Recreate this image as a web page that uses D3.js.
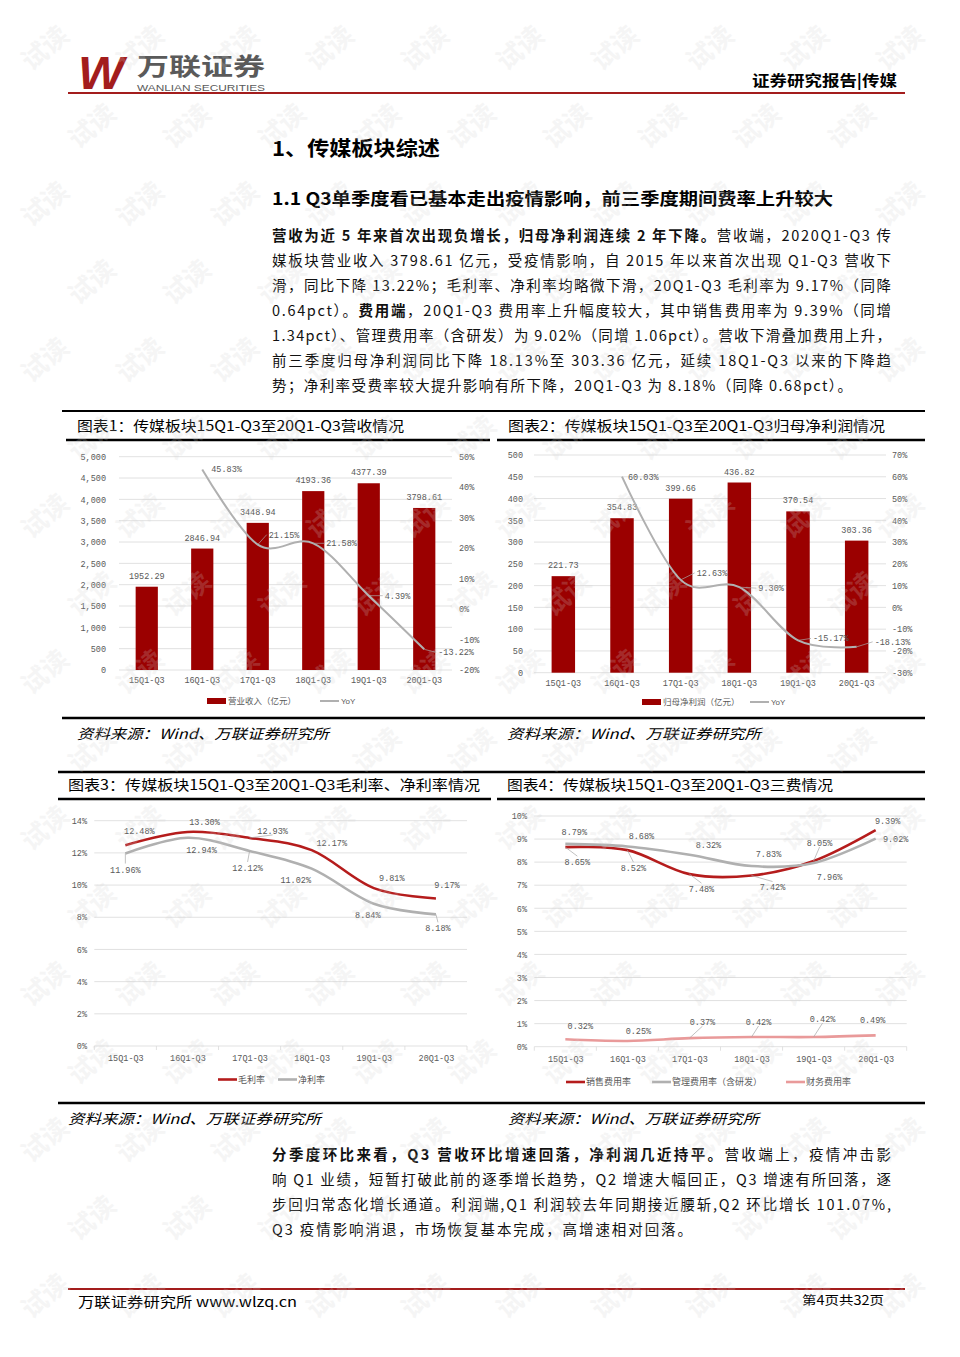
<!DOCTYPE html>
<html>
<head>
<meta charset="utf-8">
<script src="https://cdn.jsdelivr.net/npm/d3@7"></script>
<style>
html, body { margin: 0; padding: 0; background: #fff; }
svg { display: block; }
</style>
</head>
<body>
<svg id="page" width="960" height="1357"></svg>
<script>
// categories shared by the four charts
var periods = ["15Q1-Q3", "16Q1-Q3", "17Q1-Q3", "18Q1-Q3", "19Q1-Q3", "20Q1-Q3"];

// chart 1: revenue (100m yuan) and YoY %
var revenue = [1952.29, 2846.94, 3448.94, 4193.36, 4377.39, 3798.61];
var revenueYoY = [null, 45.83, 21.15, 21.58, 4.39, -13.22];

// chart 2: net profit attributable (100m yuan) and YoY %
var netProfit = [221.73, 354.83, 399.66, 436.82, 370.54, 303.36];
var netProfitYoY = [null, 60.03, 12.63, 9.30, -15.17, -18.13];

// chart 3: margins %
var grossMargin = [12.48, 13.30, 12.93, 12.17, 9.81, 9.17];
var netMargin = [11.96, 12.94, 12.12, 11.02, 8.84, 8.18];

// chart 4: expense ratios %
var salesRate = [8.65, 8.52, 7.48, 7.42, 8.05, 9.39];
var adminRate = [8.79, 8.68, 8.32, 7.83, 7.96, 9.02];
var financeRate = [0.32, 0.25, 0.37, 0.42, 0.42, 0.49];

// axis ticks
var revTicks = [0, 500, 1000, 1500, 2000, 2500, 3000, 3500, 4000, 4500, 5000];
var revYoYTicks = [-20, -10, 0, 10, 20, 30, 40, 50];
var profitTicks = [0, 50, 100, 150, 200, 250, 300, 350, 400, 450, 500];
var profitYoYTicks = [-30, -20, -10, 0, 10, 20, 30, 40, 50, 60, 70];
var marginTicks = [0, 2, 4, 6, 8, 10, 12, 14];
var expenseTicks = [0, 1, 2, 3, 4, 5, 6, 7, 8, 9, 10];

var CJK = "'Noto Sans CJK SC', 'Noto Sans', sans-serif";
var MONO = "'Liberation Mono', 'DejaVu Sans Mono', monospace";
var BRAND = "#a31d1d";
var BAR = "#9b0000";
var LRED = "#b51c1c";
var LGRAY = "#b0b0b0";
var PINK = "#e99a9a";
var TXT = "#595959";
var GRID = "#d9d9d9";

var svg = d3.select("#page");
svg.append("rect").attr("width", 960).attr("height", 1357).attr("fill", "#fff");

function text(x, y, s, opt) {
  opt = opt || {};
  var t = svg.append("text")
    .attr("x", x).attr("y", y)
    .attr("font-family", opt.font || CJK)
    .attr("font-size", opt.size || 14)
    .attr("fill", opt.fill || "#000")
    .attr("text-anchor", opt.anchor || "start");
  if (opt.weight) t.attr("font-weight", opt.weight);
  if (opt.italic) t.attr("font-style", "italic");
  if (opt.len) t.attr("textLength", opt.len).attr("lengthAdjust", "spacingAndGlyphs");
  t.text(s);
  return t;
}

function hline(x1, x2, y, color, w) {
  svg.append("line").attr("x1", x1).attr("x2", x2).attr("y1", y).attr("y2", y)
    .attr("stroke", color).attr("stroke-width", w);
}

// ---------- header ----------
text(78, 89, "W", {font: "'Liberation Sans', Arial, sans-serif", size: 46, weight: "bold", italic: true, fill: BRAND, len: 46});
text(137, 75, "万联证券", {size: 24, weight: "bold", fill: "#5a5a5a", len: 128});
text(137, 91, "WANLIAN SECURITIES", {font: "'Liberation Sans', Arial, sans-serif", size: 9.5, fill: "#5a5a5a", len: 128});
text(752, 86, "证券研究报告|传媒", {size: 15, weight: "bold", len: 145});
hline(68, 905, 93, BRAND, 2);

// ---------- headings and first paragraph ----------
text(272, 156, "1、传媒板块综述", {size: 20, weight: "bold", len: 168});
text(272, 205, "1.1 Q3单季度看已基本走出疫情影响，前三季度期间费率上升较大", {size: 17, weight: "bold", len: 561});

var para1 = [
  [["营收为近 5 年来首次出现负增长，归母净利润连续 2 年下降。", 1], ["营收端，2020Q1-Q3 传", 0]],
  [["媒板块营业收入 3798.61 亿元，受疫情影响，自 2015 年以来首次出现 Q1-Q3 营收下", 0]],
  [["滑，同比下降 13.22%；毛利率、净利率均略微下滑，20Q1-Q3 毛利率为 9.17%（同降", 0]],
  [["0.64pct）。", 0], ["费用端", 1], ["，20Q1-Q3 费用率上升幅度较大，其中销售费用率为 9.39%（同增", 0]],
  [["1.34pct）、管理费用率（含研发）为 9.02%（同增 1.06pct）。营收下滑叠加费用上升，", 0]],
  [["前三季度归母净利润同比下降 18.13%至 303.36 亿元，延续 18Q1-Q3 以来的下降趋", 0]],
  [["势；净利率受费率较大提升影响有所下降，20Q1-Q3 为 8.18%（同降 0.68pct）。", 0]]
];
var para1Len = [619, 619, 619, 619, 619, 619, 580];

var para2 = [
  [["分季度环比来看，Q3 营收环比增速回落，净利润几近持平。", 1], ["营收端上，疫情冲击影", 0]],
  [["响 Q1 业绩，短暂打破此前的逐季增长趋势，Q2 增速大幅回正，Q3 增速有所回落，逐", 0]],
  [["步回归常态化增长通道。利润端,Q1 利润较去年同期接近腰斩,Q2 环比增长 101.07%,", 0]],
  [["Q3 疫情影响消退，市场恢复基本完成，高增速相对回落。", 0]]
];
var para2Len = [619, 619, 619, 420];

function paragraph(lines, lens, y0) {
  lines.forEach(function (segs, i) {
    var t = svg.append("text")
      .attr("x", 272).attr("y", y0 + i * 25)
      .attr("font-family", CJK).attr("font-size", 14.5).attr("fill", "#111")
      .attr("textLength", lens[i]).attr("lengthAdjust", "spacing");
    segs.forEach(function (s) {
      t.append("tspan").attr("font-weight", s[1] ? "bold" : "normal").text(s[0]);
    });
  });
}
paragraph(para1, para1Len, 241);
paragraph(para2, para2Len, 1160);

// ---------- frames ----------
hline(62, 925, 411, "#000", 2);
hline(66, 490, 440, "#000", 2.5);
hline(497, 925, 440, "#000", 2.5);
hline(62, 925, 718, "#000", 2.5);
hline(58, 925, 772, "#000", 2.5);
hline(58, 491, 799, "#000", 2.5);
hline(497, 925, 799, "#000", 2.5);
hline(58, 925, 1103, "#000", 2.5);

text(77, 431, "图表1：传媒板块15Q1-Q3至20Q1-Q3营收情况", {size: 14, len: 327});
text(508, 431, "图表2：传媒板块15Q1-Q3至20Q1-Q3归母净利润情况", {size: 14, len: 377});
text(68, 790, "图表3：传媒板块15Q1-Q3至20Q1-Q3毛利率、净利率情况", {size: 14, len: 412});
text(507, 790, "图表4：传媒板块15Q1-Q3至20Q1-Q3三费情况", {size: 14, len: 326});

var src = "资料来源：Wind、万联证券研究所";
text(77, 739, src, {size: 14, italic: true, len: 252});
text(507, 739, src, {size: 14, italic: true, len: 254});
text(68, 1124, src, {size: 14, italic: true, len: 253});
text(508, 1124, src, {size: 14, italic: true, len: 251});

// ---------- footer ----------
hline(68, 905, 1289, BRAND, 2);
text(78, 1307, "万联证券研究所 www.wlzq.cn", {size: 13.5, len: 219});
text(884, 1305, "第4页共32页", {size: 12.5, anchor: "end", len: 82});

// ---------- chart helpers ----------
function styleAxis(a) {
  a.select(".domain").remove();
  a.selectAll("text").attr("font-family", MONO).attr("font-size", 8.5).attr("fill", TXT);
}

function pctLabel(v) { return v.toFixed(2) + "%"; }

function labels(g, xs, ys, vals, offs, leaders, anchor) {
  vals.forEach(function (v, i) {
    if (v == null) return;
    var px = xs(i), py = ys(v), o = offs[i];
    if (leaders && leaders[i]) {
      var lx = px + o[0] - (anchor === "start" ? 2 : 0);
      var ly = py + o[1] + (anchor === "start" ? 0 : (o[1] > 0 ? -6 : 4));
      g.append("line").attr("x1", px).attr("y1", py).attr("x2", lx).attr("y2", ly)
        .attr("stroke", "#a6a6a6").attr("stroke-width", 0.7);
    }
    g.append("text").attr("x", px + o[0]).attr("y", py + o[1])
      .attr("dy", "0.35em").attr("text-anchor", anchor)
      .attr("font-family", MONO).attr("font-size", 8.5).attr("fill", TXT)
      .text(pctLabel(v));
  });
}

// bar + YoY line chart
function barChart(c) {
  var g = svg.append("g");
  var x = d3.scaleBand().domain(periods).range([c.x0, c.x1]).paddingInner(0.6).paddingOuter(0.3);
  var yL = d3.scaleLinear().domain(d3.extent(c.leftTicks)).range([c.yb, c.yt]);
  var yR = d3.scaleLinear().domain(d3.extent(c.rightTicks)).range([c.yb, c.yt]);

  g.selectAll("line.grid").data(c.leftTicks).join("line").attr("class", "grid")
    .attr("x1", c.x0).attr("x2", c.x1)
    .attr("y1", function (d) { return yL(d); }).attr("y2", function (d) { return yL(d); })
    .attr("stroke", GRID).attr("stroke-width", 0.8);

  g.append("g").attr("transform", "translate(" + c.leftLabelX + ",0)")
    .call(d3.axisLeft(yL).tickValues(c.leftTicks).tickSize(0).tickPadding(0).tickFormat(d3.format(c.leftFmt)))
    .call(styleAxis);
  g.append("g").attr("transform", "translate(" + c.rightLabelX + ",0)")
    .call(d3.axisRight(yR).tickValues(c.rightTicks).tickSize(0).tickPadding(0).tickFormat(function (d) { return d + "%"; }))
    .call(styleAxis);
  g.append("g").attr("transform", "translate(0," + (c.yb + 7) + ")")
    .call(d3.axisBottom(x).tickSize(0).tickPadding(0))
    .call(styleAxis);

  g.selectAll("rect.bar").data(c.bars).join("rect").attr("class", "bar")
    .attr("x", function (d, i) { return x(periods[i]); })
    .attr("width", x.bandwidth())
    .attr("y", function (d) { return yL(d); })
    .attr("height", function (d) { return yL(0) - yL(d); })
    .attr("fill", BAR);

  g.selectAll("text.val").data(c.bars).join("text").attr("class", "val")
    .attr("x", function (d, i) { return x(periods[i]) + x.bandwidth() / 2; })
    .attr("y", function (d) { return yL(d) - 8; })
    .attr("text-anchor", "middle")
    .attr("font-family", MONO).attr("font-size", 8.5).attr("fill", TXT)
    .text(d3.format(".2f"));

  var cx = function (i) { return x(periods[i]) + x.bandwidth() / 2; };
  var line = d3.line()
    .defined(function (d) { return d != null; })
    .x(function (d, i) { return cx(i); })
    .y(function (d) { return yR(d); })
    .curve(d3.curveCatmullRom.alpha(0));
  g.append("path").datum(c.yoy).attr("d", line)
    .attr("fill", "none").attr("stroke", LGRAY).attr("stroke-width", 2);

  labels(g, cx, yR, c.yoy, c.yoyOffs, c.yoyLeaders, "start");

  // legend
  g.append("rect").attr("x", c.legX).attr("y", c.legY - 3).attr("width", 19).attr("height", 6).attr("fill", BAR);
  g.append("text").attr("x", c.legX + 21).attr("y", c.legY).attr("dy", "0.35em")
    .attr("font-family", CJK).attr("font-size", 8.5).attr("fill", TXT).text(c.barName);
  g.append("line").attr("x1", c.legX2).attr("x2", c.legX2 + 19).attr("y1", c.legY).attr("y2", c.legY)
    .attr("stroke", LGRAY).attr("stroke-width", 2);
  g.append("text").attr("x", c.legX2 + 21).attr("y", c.legY).attr("dy", "0.35em")
    .attr("font-family", "'Liberation Sans', sans-serif").attr("font-size", 8).attr("fill", TXT).text("YoY");
}

barChart({
  x0: 119, x1: 452, yt: 456.7, yb: 670,
  leftTicks: revTicks, rightTicks: revYoYTicks, leftFmt: ",",
  leftLabelX: 106, rightLabelX: 459,
  bars: revenue, yoy: revenueYoY,
  yoyOffs: [null, [9, 0], [11, -10], [13, 0], [16, 0], [14, 3]],
  yoyLeaders: [0, 0, 1, 1, 1, 1],
  legX: 207, legX2: 320, legY: 701, barName: "营业收入（亿元）"
});

barChart({
  x0: 534, x1: 886, yt: 455, yb: 672.7,
  leftTicks: profitTicks, rightTicks: profitYoYTicks, leftFmt: "d",
  leftLabelX: 523, rightLabelX: 892,
  bars: netProfit, yoy: netProfitYoY,
  yoyOffs: [null, [6, 0], [16, -7], [19, 1], [15, -2], [18, -5]],
  yoyLeaders: [0, 0, 1, 1, 1, 1],
  legX: 642, legX2: 750, legY: 702, barName: "归母净利润（亿元）"
});

// multi-line chart
function lineChart(c) {
  var g = svg.append("g");
  var x = d3.scalePoint().domain(periods).range([c.x0, c.x1]).padding(0.5);
  var y = d3.scaleLinear().domain(d3.extent(c.ticks)).range([c.yb, c.yt]);
  var step = x.step();

  g.selectAll("line.grid").data(c.ticks).join("line").attr("class", "grid")
    .attr("x1", c.x0).attr("x2", c.x1)
    .attr("y1", function (d) { return y(d); }).attr("y2", function (d) { return y(d); })
    .attr("stroke", GRID).attr("stroke-width", 0.8);
  g.selectAll("line.tick").data(d3.range(periods.length + 1)).join("line").attr("class", "tick")
    .attr("x1", function (k) { return c.x0 + k * step; }).attr("x2", function (k) { return c.x0 + k * step; })
    .attr("y1", c.yb).attr("y2", c.yb + 4)
    .attr("stroke", GRID).attr("stroke-width", 0.8);

  g.append("g").attr("transform", "translate(" + c.labelX + ",0)")
    .call(d3.axisLeft(y).tickValues(c.ticks).tickSize(0).tickPadding(0).tickFormat(function (d) { return d + "%"; }))
    .call(styleAxis);
  g.append("g").attr("transform", "translate(0," + (c.yb + 9) + ")")
    .call(d3.axisBottom(x).tickSize(0).tickPadding(0))
    .call(styleAxis);

  var cx = function (i) { return x(periods[i]); };
  var line = d3.line()
    .x(function (d, i) { return cx(i); })
    .y(function (d) { return y(d); })
    .curve(d3.curveCatmullRom.alpha(0));

  c.series.forEach(function (s) {
    g.append("path").datum(s.values).attr("d", line)
      .attr("fill", "none").attr("stroke", s.color).attr("stroke-width", 2.6);
  });
  c.series.forEach(function (s) {
    labels(g, cx, y, s.values, s.offs, s.leaders, "middle");
  });

  c.series.forEach(function (s) {
    g.append("line").attr("x1", s.legX).attr("x2", s.legX + 19).attr("y1", c.legY).attr("y2", c.legY)
      .attr("stroke", s.color).attr("stroke-width", 2.6);
    g.append("text").attr("x", s.legX + 20).attr("y", c.legY).attr("dy", "0.35em")
      .attr("font-family", CJK).attr("font-size", 9).attr("fill", TXT).text(s.name);
  });
}

lineChart({
  x0: 94.3, x1: 467, yt: 820.7, yb: 1046, ticks: marginTicks, labelX: 87, legY: 1079.5,
  series: [
    {name: "毛利率", values: grossMargin, color: LRED, legX: 218,
      offs: [[14, -14], [17, -10], [23, -7], [20, -7], [18, -10], [11, -13]],
      leaders: [0, 0, 1, 0, 0, 0]},
    {name: "净利率", values: netMargin, color: LGRAY, legX: 278,
      offs: [[0, 16], [14, 12], [-2, 17], [-16, 11], [-6, 11], [2, 14]],
      leaders: [1, 0, 1, 0, 0, 1]}
  ]
});

lineChart({
  x0: 534.3, x1: 906.7, yt: 816, yb: 1046.7, ticks: expenseTicks, labelX: 527, legY: 1082,
  series: [
    {name: "销售费用率", values: salesRate, color: LRED, legX: 566,
      offs: [[12, 15], [6, 18], [12, 15], [21, 12], [6, -18], [12, -9]],
      leaders: [1, 1, 1, 1, 1, 0]},
    {name: "管理费用率（含研发）", values: adminRate, color: LGRAY, legX: 652,
      offs: [[9, -12], [14, -10], [19, -10], [17, -12], [16, 14], [20, 0]],
      leaders: [0, 0, 0, 0, 0, 0]},
    {name: "财务费用率", values: financeRate, color: PINK, legX: 786,
      offs: [[15, -13], [11, -10], [13, -16], [7, -15], [9, -18], [-3, -15]],
      leaders: [0, 0, 1, 1, 1, 0]}
  ]
});

// ---------- watermark (kept inside the page) ----------
var wm = svg.append("g").attr("pointer-events", "none");
d3.range(0, 17).forEach(function (r) {
  d3.range(0, 10).forEach(function (k) {
    var wx = 45 + k * 95 + (r % 2) * 47;
    var wy = 48 + r * 78;
    if (wx > 915 || wy > 1320) return;
    wm.append("text").attr("x", wx).attr("y", wy)
      .attr("transform", "rotate(-40," + wx + "," + wy + ")")
      .attr("text-anchor", "middle").attr("dy", "0.35em")
      .attr("font-family", CJK).attr("font-size", 26).attr("font-weight", "bold")
      .attr("fill", "#cfcfcf").attr("opacity", 0.2)
      .text("试读");
  });
});
</script>
</body>
</html>
